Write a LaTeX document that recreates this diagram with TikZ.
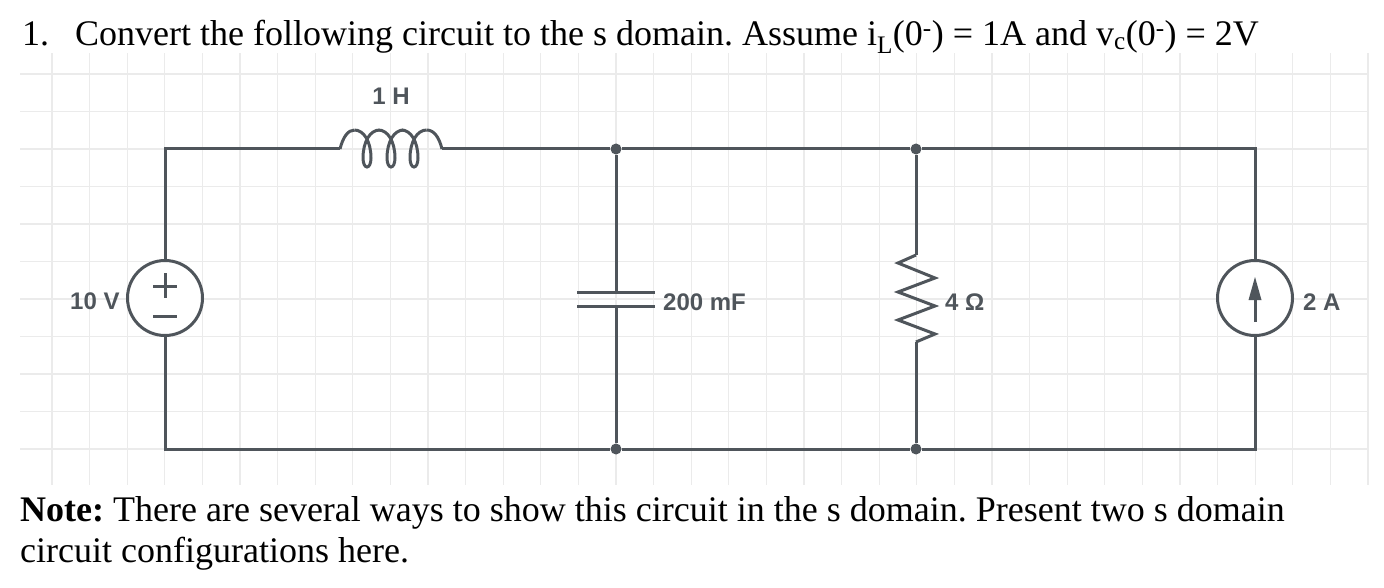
\documentclass[tikz,border=0pt]{standalone}
\usepackage{fontspec}
\setmainfont{Liberation Serif}
\newfontfamily\labelfont{Liberation Sans}
\frenchspacing
\tikzset{
    wire/.style={line width=3pt,draw=wirecol},
    gridline/.style={line width=1.3pt,draw=black!8},
    junct/.style={circle,fill=wirecol,inner sep=0pt,minimum size=11pt},
    source/.style={circle,draw=wirecol,line width=3pt,fill=white,inner sep=0pt,minimum size=75pt},
    val/.style={font=\labelfont\bfseries\fontsize{24}{28}\selectfont,text=wirecol,inner sep=0pt},
    body/.style={font=\fontsize{36}{41}\selectfont,anchor=base west,inner sep=0pt},
}
\definecolor{wirecol}{HTML}{4F555B}
\begin{document}
\begin{tikzpicture}[x=1pt,y=-1pt]
    \useasboundingbox (0,0) rectangle (1384,588);

    \foreach \i in {0,...,35} {
        \draw[gridline] (52+37.6*\i,53) -- (52+37.6*\i,485);
    }
    \foreach \i in {0,...,10} {
        \draw[gridline] (20,74+37.5*\i) -- (1367,74+37.5*\i);
    }

    \node[body] (num) at (22,46) {1.};
    \node[body] (head) at (75,46) {Convert the following circuit to the s domain. Assume i\textsubscript{L}(0\textsuperscript{-}) = 1A and v\textsubscript{c}(0\textsuperscript{-}) = 2V};
    \node[body] (note) at (20,521) {\textbf{Note:} There are several ways to show this circuit in the s domain. Present two s domain};
    \node[body] (note2) at (20,562) {circuit configurations here.};

    \node[source] (vs) at (165,298) {};
    \node[source] (is) at (1255,298) {};
    \node[junct] (t1) at (616,149) {};
    \node[junct] (t2) at (916,149) {};
    \node[junct] (b1) at (616,449) {};
    \node[junct] (b2) at (916,449) {};
    \coordinate (lin) at (340,149);
    \coordinate (lout) at (442,149);
    \coordinate (ctop) at (616,292);
    \coordinate (cbot) at (616,306);
    \coordinate (rtop) at (916,255);
    \coordinate (rbot) at (916,342);

    \draw[wire] (vs) |- (lin);
    \draw[wire] (lout) -- (t1) -- (t2) -| (is);
    \draw[wire] (vs) |- (b1) -- (b2) -| (is);
    \draw[wire] (t1) -- (ctop);
    \draw[wire] (cbot) -- (b1);
    \draw[wire] (t2) -- (rtop);
    \draw[wire] (rbot) -- (b2);

    \draw[wire] (lin) .. controls (343,137) and (348,130) .. (354.5,130);
    \foreach \x in {367,391,414} {
        \draw[wire,shift={(\x,0)}] (-12.5,130) .. controls (-3,130) and (4,142) .. (4,158)
            .. controls (4,164) and (2,167) .. (0,167)
            .. controls (-2,167) and (-4,164) .. (-4,158)
            .. controls (-4,142) and (3,130) .. (12.5,130);
    }
    \draw[wire] (lout) .. controls (439,137) and (434,130) .. (426.5,130);

    \draw[wire] (577,292) -- (655,292);
    \draw[wire] (577,306) -- (655,306);

    \draw[wire] (rtop) -- (898,263) -- (935,278) -- (898,292) -- (935,306) -- (898,320) -- (935,334) -- (rbot);

    \draw[wire] (153,286) -- (177,286);
    \draw[wire] (165,273) -- (165,298);
    \draw[wire] (153,316) -- (177,316);

    \draw[wire] (1255,322) -- (1255,295);
    \fill[wirecol] (1255,277) -- (1261.5,300) -- (1248.5,300) -- cycle;

    \node[val] (lval) at (391,96) {1 H};
    \node[val,anchor=west] (vval) at (70,301) {10 V};
    \node[val,anchor=west] (cval) at (663,302) {200 mF};
    \node[val,anchor=west] (rval) at (945,302) {4 Ω};
    \node[val,anchor=west] (ival) at (1303,302) {2 A};
\end{tikzpicture}
\end{document}
